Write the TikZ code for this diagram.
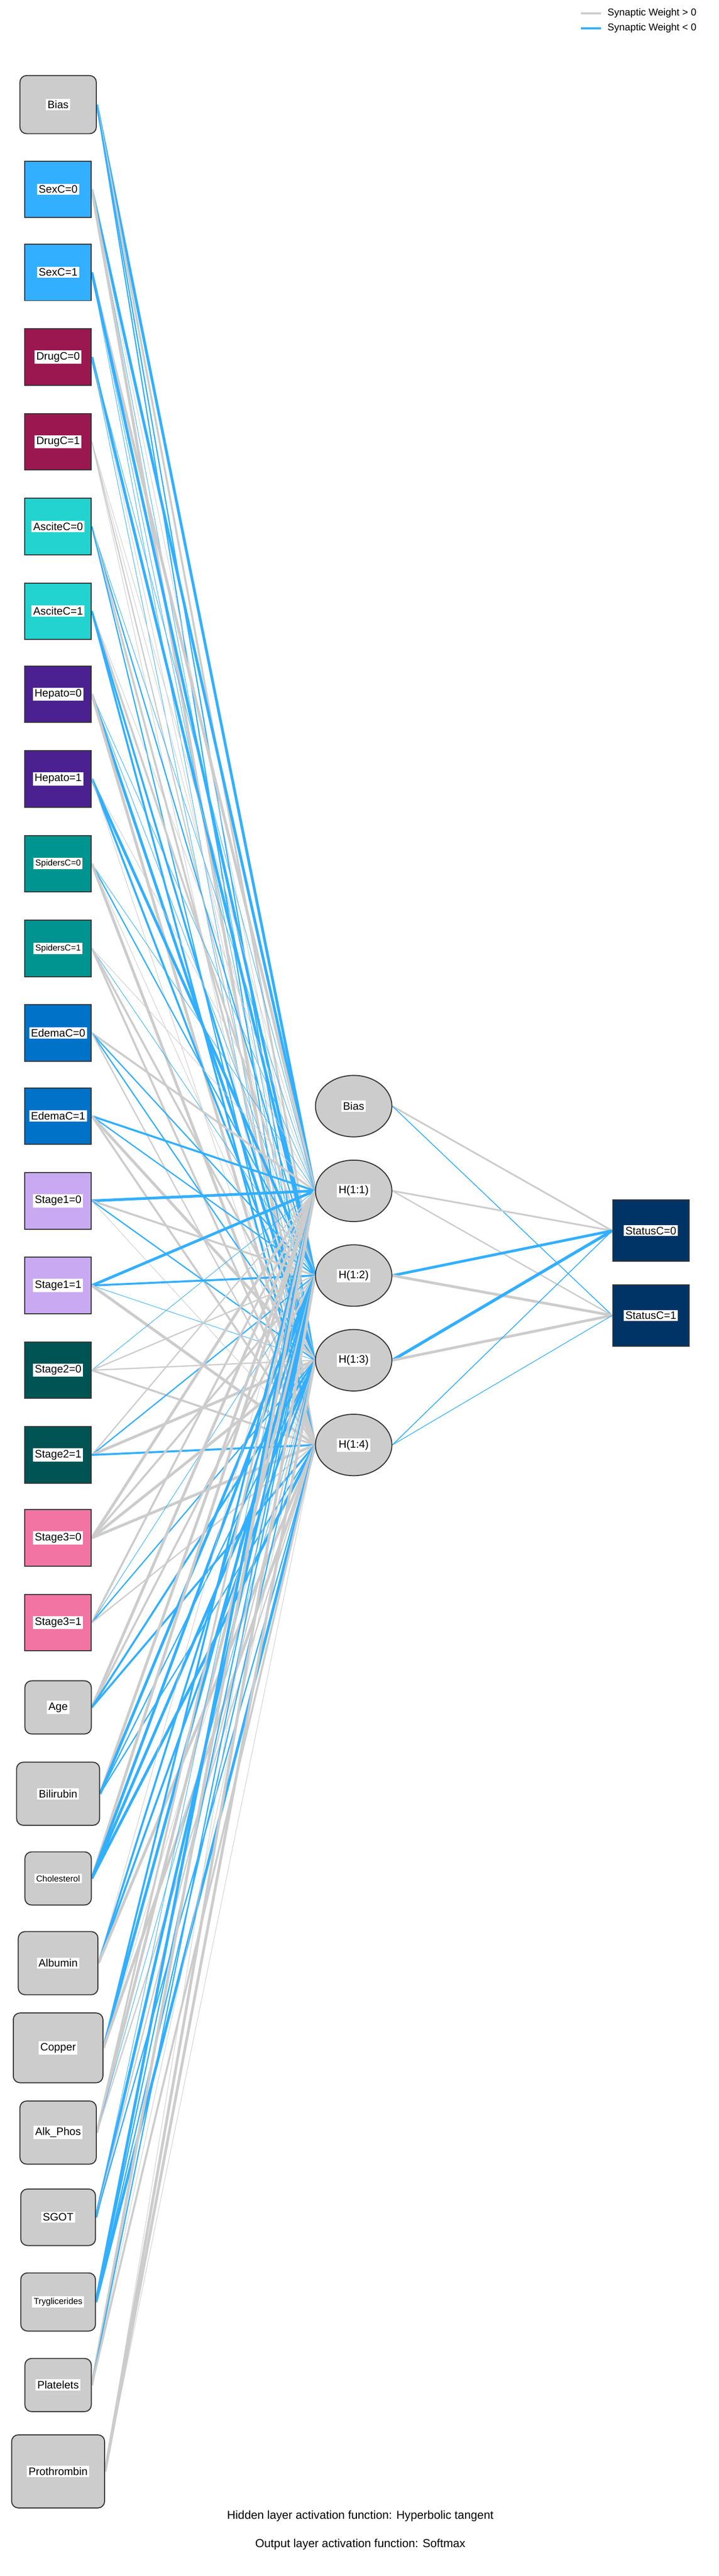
\documentclass[tikz,border=0pt]{standalone}
\usepackage{fontspec}
\setmainfont{Liberation Sans}
\usetikzlibrary{backgrounds,shapes.geometric}
\definecolor{wpos}{HTML}{CCCCCC}
\definecolor{wneg}{HTML}{33AFFF}
\definecolor{sexc}{HTML}{33AFFF}
\definecolor{drugc}{HTML}{9B1750}
\definecolor{ascitec}{HTML}{22D3D0}
\definecolor{hepato}{HTML}{4B2090}
\definecolor{spidersc}{HTML}{009490}
\definecolor{edemac}{HTML}{0072C8}
\definecolor{stageone}{HTML}{C9AAF2}
\definecolor{stagetwo}{HTML}{005454}
\definecolor{stagethree}{HTML}{F274A2}
\definecolor{statusc}{HTML}{003466}
\tikzset{
  unit/.style={draw=black!80,line width=0.6pt,inner sep=0pt},
  hid/.style={unit,ellipse,fill=wpos,minimum width={46*0.03508cm},minimum height={37*0.03508cm}},
  outbox/.style={unit,fill=statusc,minimum width={46*0.03508cm},minimum height={37*0.03508cm}},
  lbl/.style={fill=white,inner sep=1pt,font=\fontsize{6.5}{7}\selectfont},
  wgtpos/.style={draw=wpos},
  wgtneg/.style={draw=wneg}
}
\begin{document}
\begin{tikzpicture}[x=0.03508cm,y=-0.03508cm]
\useasboundingbox (0,0) rectangle (433,1551);
% input layer
\foreach \nm/\lab/\yy/\col/\w/\h/\fs/\rc in {
  i0/Bias/63/wpos/46/35/6.5/4, i1/SexC=0/114/sexc/40/34/6.5/0, i2/SexC=1/164/sexc/40/34/6.5/0,
  i3/DrugC=0/215/drugc/40/34/6.5/0, i4/DrugC=1/266/drugc/40/34/6.5/0,
  i5/AsciteC=0/317/ascitec/40/34/6.5/0, i6/AsciteC=1/368/ascitec/40/34/6.5/0,
  i7/Hepato=0/418/hepato/40/34/6.5/0, i8/Hepato=1/469/hepato/40/34/6.5/0,
  i9/SpidersC=0/520/spidersc/40/34/5.2/0, i10/SpidersC=1/571/spidersc/40/34/5.2/0,
  i11/EdemaC=0/622/edemac/40/34/6.5/0, i12/EdemaC=1/672/edemac/40/34/6.5/0,
  i13/Stage1=0/723/stageone/40/34/6.5/0, i14/Stage1=1/774/stageone/40/34/6.5/0,
  i15/Stage2=0/825/stagetwo/40/34/6.5/0, i16/Stage2=1/876/stagetwo/40/34/6.5/0,
  i17/Stage3=0/926/stagethree/40/34/6.5/0, i18/Stage3=1/977/stagethree/40/34/6.5/0,
  i19/Age/1028/wpos/40/32/6.5/4, i20/Bilirubin/1080/wpos/50/38/6.5/4,
  i21/Cholesterol/1131/wpos/40/32/5.2/4, i22/Albumin/1182/wpos/48/38/6.5/4,
  i23/Copper/1233/wpos/54/42/6.5/4, i24/Alk\_Phos/1284/wpos/46/38/6.5/4,
  i25/SGOT/1335/wpos/45/34/6.5/4, i26/Tryglicerides/1386/wpos/45/35/5.2/4,
  i27/Platelets/1436/wpos/40/32/6.5/4, i28/Prothrombin/1488/wpos/56/44/6.5/4}
{
  \node[unit,fill=\col,rounded corners=\rc pt,
        minimum width={\w*0.03508cm},minimum height={\h*0.03508cm}] (\nm) at (35,\yy) {};
  \node[lbl,font=\fontsize{\fs}{\fs}\selectfont] at (\nm) {\lab};
}
% hidden layer
\node[hid] (hb) at (213,666) {};
\node[lbl] at (hb) {Bias};
\foreach \j/\yy in {1/717,2/768,3/819,4/870}{
  \node[hid] (h\j) at (213,\yy) {};
  \node[lbl] at (h\j) {H(1:\j)};
}
% output layer
\node[outbox] (o0) at (392,741) {};
\node[lbl] at (o0) {StatusC=0};
\node[outbox] (o1) at (392,792) {};
\node[lbl] at (o1) {StatusC=1};
% synaptic weights
\begin{scope}[on background layer]
\pgfmathsetseed{17}
\foreach \i in {0,...,28}{
  \foreach \j in {1,...,4}{
    \pgfmathrandominteger{\c}{0}{1}
    \pgfmathrandominteger{\wd}{0}{3}
    \pgfmathsetmacro{\lw}{0.3+0.45*\wd}
    \ifnum\c=0 \def\ec{wpos}\else\def\ec{wneg}\fi
    \draw[draw=\ec,line width=\lw pt] (i\i.east) -- (h\j.west);
  }
}
\draw[wgtpos,line width=1pt] (hb.east) -- (o0.west);
\draw[wgtneg,line width=0.5pt] (hb.east) -- (o1.west);
\draw[wgtpos,line width=1pt] (h1.east) -- (o0.west);
\draw[wgtpos,line width=0.8pt] (h1.east) -- (o1.west);
\draw[wgtneg,line width=1.6pt] (h2.east) -- (o0.west);
\draw[wgtpos,line width=1.6pt] (h2.east) -- (o1.west);
\draw[wgtneg,line width=1.8pt] (h3.east) -- (o0.west);
\draw[wgtpos,line width=1.6pt] (h3.east) -- (o1.west);
\draw[wgtneg,line width=0.5pt] (h4.east) -- (o0.west);
\draw[wgtneg,line width=0.4pt] (h4.east) -- (o1.west);
\end{scope}
% legend
\coordinate (lp) at (350,8);
\coordinate (ln) at (350,17);
\draw[wgtpos,line width=1.2pt] (lp) -- ++(12,0) node[right=0pt,font=\fontsize{6}{6}\selectfont,text=black] (tp) {Synaptic Weight > 0};
\draw[wgtneg,line width=1.2pt] (ln) -- ++(12,0) node[right=0pt,font=\fontsize{6}{6}\selectfont,text=black] (tn) {Synaptic Weight < 0};
% activation functions
\node[font=\fontsize{7}{7}\selectfont] (fh) at (217,1515) {Hidden layer activation function: Hyperbolic tangent};
\node[font=\fontsize{7}{7}\selectfont] (fo) at (217,1532) {Output layer activation function: Softmax};
\end{tikzpicture}
\end{document}
